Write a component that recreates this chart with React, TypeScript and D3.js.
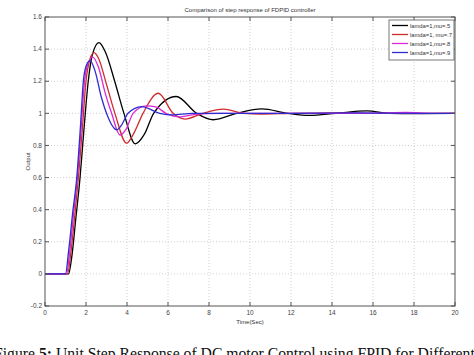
import React, { useEffect } from "react";
import * as d3 from "d3";

const xTicks = [0, 2, 4, 6, 8, 10, 12, 14, 16, 18, 20];
const yTicks = [-0.2, 0, 0.2, 0.4, 0.6, 0.8, 1, 1.2, 1.4, 1.6];

const seriesNames = ["lamda=1,mu=.5", "lamda=1, mu=.7", "lamda=1,mu=.8", "lamda=1,mu=.9"];
const seriesColors = ["#000000", "#d02c2c", "#dc28d4", "#2c2cd0"];

const tBlack = [0, 1.0, 1.15, 1.3, 1.5, 1.71, 1.9, 2.11, 2.3, 2.63, 2.95, 3.4, 3.85, 4.4, 4.85, 5.3, 6.4, 7.4, 8.21, 9.35, 10.57, 11.86, 12.9, 14.2, 15.7, 16.8, 18, 20];
const vBlack = [0, 0, 0, 0.1, 0.34, 0.6, 0.9, 1.2, 1.36, 1.44, 1.38, 1.2, 1.0, 0.81, 0.87, 1.0, 1.105, 1.0, 0.96, 1.0, 1.028, 1.0, 0.987, 1.0, 1.015, 1.0, 0.998, 1.0];

const tRed = [0, 1.0, 1.1, 1.25, 1.45, 1.63, 1.82, 2.0, 2.2, 2.39, 2.62, 3.0, 3.41, 3.98, 4.35, 4.78, 5.53, 6.25, 6.83, 7.7, 8.7, 9.7, 10.5, 12, 14, 16, 18, 20];
const vRed = [0, 0, 0, 0.12, 0.36, 0.6, 0.9, 1.2, 1.34, 1.378, 1.34, 1.18, 1.0, 0.814, 0.88, 1.0, 1.125, 1.0, 0.964, 1.0, 1.026, 1.0, 0.995, 1.0, 1.002, 1.0, 1.0, 1.0];

const tMag = [0, 1.0, 1.05, 1.2, 1.4, 1.58, 1.76, 1.93, 2.1, 2.33, 2.6, 2.95, 3.25, 3.66, 3.95, 4.3, 4.95, 5.4, 5.9, 6.6, 7.4, 8.5, 10, 12, 14, 16, 17.6, 19, 20];
const vMag = [0, 0, 0, 0.13, 0.38, 0.6, 0.9, 1.2, 1.31, 1.35, 1.29, 1.12, 1.0, 0.865, 0.9, 1.0, 1.046, 1.04, 1.0, 0.978, 0.995, 1.0, 1.0, 1.0, 1.0, 1.0, 1.006, 1.0, 1.0];

const tBlue = [0, 1.0, 1.15, 1.35, 1.55, 1.72, 1.87, 2.02, 2.2, 2.45, 2.75, 3.0, 3.5, 3.75, 4.05, 4.71, 5.6, 6.2, 7.2, 9, 12, 15, 18, 20];
const vBlue = [0, 0, 0.14, 0.38, 0.6, 0.9, 1.2, 1.3, 1.328, 1.26, 1.1, 1.0, 0.897, 0.93, 1.0, 1.042, 1.0, 0.99, 1.0, 1.0, 1.0, 1.003, 1.0, 1.0];

const seriesT = [tBlack, tRed, tMag, tBlue];
const seriesV = [vBlack, vRed, vMag, vBlue];

const W = 474;
const H = 355;
const L = 45, R = 455, T = 17, B = 306;

export default function App() {
  useEffect(() => {
    document.body.style.margin = "0";
  }, []);

  const x = d3.scaleLinear().domain([0, 20]).range([L, R]);
  const y = d3.scaleLinear().domain([-0.2, 1.6]).range([B, T]);
  const line = d3
    .line<[number, number]>()
    .x((d) => x(d[0]))
    .y((d) => y(d[1]))
    .curve(d3.curveMonotoneX);

  const axisColor = "#555";
  const font = "'Liberation Sans', Arial, sans-serif";
  const tickLen = 4;

  return (
    <svg width={W} height={H} style={{ position: "absolute", left: 0, top: 0, background: "#fff" }}>
      <rect x={0} y={0} width={W} height={H} fill="#fff" />
      {/* grid */}
      {xTicks.slice(1, -1).map((t) => (
        <line key={"gx" + t} x1={x(t)} x2={x(t)} y1={T} y2={B} stroke="#c4c4c4" strokeWidth={0.8} strokeDasharray="1,2" />
      ))}
      {yTicks.slice(1, -1).map((t) => (
        <line key={"gy" + t} x1={L} x2={R} y1={y(t)} y2={y(t)} stroke="#c4c4c4" strokeWidth={0.8} strokeDasharray="1,2" />
      ))}
      {/* series */}
      {seriesT.map((ts, i) => (
        <path
          key={"s" + i}
          d={line(ts.map((t, j) => [t, seriesV[i][j]] as [number, number])) || ""}
          fill="none"
          stroke={seriesColors[i]}
          strokeWidth={1.3}
        />
      ))}
      {/* box */}
      <rect x={L} y={T} width={R - L} height={B - T} fill="none" stroke={axisColor} strokeWidth={1} />
      {/* ticks */}
      {xTicks.map((t) => (
        <g key={"tx" + t}>
          <line x1={x(t)} x2={x(t)} y1={B} y2={B - tickLen} stroke={axisColor} />
          <line x1={x(t)} x2={x(t)} y1={T} y2={T + tickLen} stroke={axisColor} />
          <text x={x(t)} y={B + 9} fontSize={6.5} fontFamily={font} fill="#444" textAnchor="middle">
            {String(t)}
          </text>
        </g>
      ))}
      {yTicks.map((t) => (
        <g key={"ty" + t}>
          <line x1={L} x2={L + tickLen} y1={y(t)} y2={y(t)} stroke={axisColor} />
          <line x1={R} x2={R - tickLen} y1={y(t)} y2={y(t)} stroke={axisColor} />
          <text x={L - 3} y={y(t) + 2.2} fontSize={6.5} fontFamily={font} fill="#444" textAnchor="end">
            {String(Math.round(t * 10) / 10)}
          </text>
        </g>
      ))}
      {/* labels */}
      <text x={(L + R) / 2} y={12} fontSize={6} fontFamily={font} fill="#333" textAnchor="middle">
        Comparison of step response of FDPID controller
      </text>
      <text x={(L + R) / 2} y={324} fontSize={6} fontFamily={font} fill="#333" textAnchor="middle">
        Time(Sec)
      </text>
      <text
        x={0}
        y={0}
        transform={`translate(30,${(T + B) / 2}) rotate(-90)`}
        fontSize={6}
        fontFamily={font}
        fill="#333"
        textAnchor="middle"
      >
        Output
      </text>
      {/* legend */}
      <g>
        <rect x={389} y={20} width={65} height={40} fill="#fff" stroke={axisColor} strokeWidth={0.8} />
        {seriesNames.map((n, i) => (
          <g key={"lg" + i}>
            <line x1={392} x2={408} y1={25.5 + i * 9} y2={25.5 + i * 9} stroke={seriesColors[i]} strokeWidth={1.3} />
            <text x={410} y={27.5 + i * 9} fontSize={5.8} fontFamily={font} fill="#333">
              {n}
            </text>
          </g>
        ))}
      </g>
      {/* caption */}
      <text x={-6} y={358.5} fontSize={15.7} fontFamily="'Liberation Serif', 'Times New Roman', serif" fill="#111">
        Figure <tspan fontWeight="bold">5:</tspan> Unit Step Response of DC motor Control using FPID for Different
      </text>
    </svg>
  );
}
